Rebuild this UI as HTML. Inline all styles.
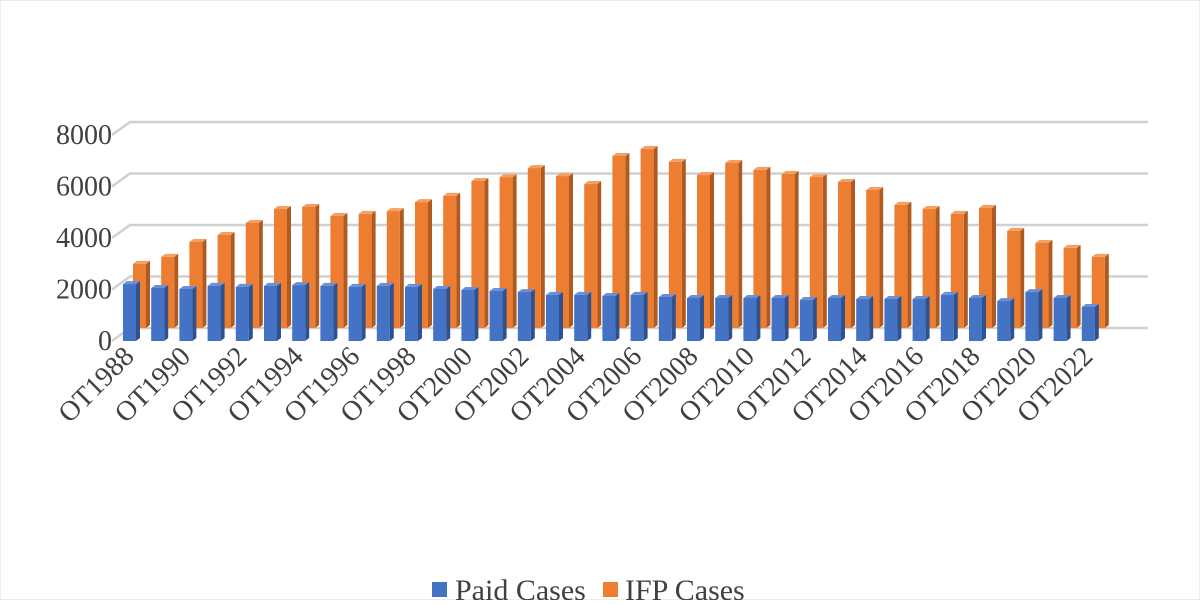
<!DOCTYPE html>
<html><head><meta charset="utf-8"><style>
body{margin:0;background:#fff}
svg text{font-family:"Liberation Serif",serif;fill:#404040}
</style></head><body>
<svg id="chart" width="1200" height="600" xmlns="http://www.w3.org/2000/svg">
<rect width="1200" height="600" fill="#fff" stroke="#d9d9d9"/>
<g id="grid"></g>
<g id="ylabels"></g>
<g id="bars"></g>
<g id="xlabels"></g>
<g>
<rect x="432" y="582" width="15" height="15" fill="#4472c4"/>
<text x="455" y="600" font-size="30">Paid Cases</text>
<rect x="603" y="582" width="15" height="15" fill="#ed7d31"/>
<text x="625" y="600" font-size="30">IFP Cases</text>
</g>
</svg>
<script>
const years = [];
for (let y = 1988; y <= 2022; y++) years.push('OT' + y);
const paid = [2210,2060,2020,2140,2100,2140,2170,2140,2100,2140,2100,2020,1980,1940,1900,1790,1790,1750,1790,1710,1670,1670,1670,1670,1590,1670,1630,1630,1630,1790,1670,1550,1900,1670,1320];
const ifp = [2490,2760,3340,3610,4080,4620,4700,4350,4430,4540,4890,5130,5710,5860,6210,5900,5590,6680,6950,6450,5940,6410,6140,5980,5860,5670,5360,4780,4620,4430,4660,3770,3300,3110,2760];
const yTicks = [0,2000,4000,6000,8000];

const NS='http://www.w3.org/2000/svg';
function mk(tag, attrs, parent){const e=document.createElementNS(NS,tag);for(const k in attrs)e.setAttribute(k,attrs[k]);parent.appendChild(e);return e;}
const frontBase=341, backBase=328, pxPer=25.75/1000;
const yFront=v=>frontBase-v*pxPer, yBack=v=>backBase-v*pxPer;
const x0=123, pitch=28.2, bw=13, dx=4, dy=3;
const xCat=i=>x0+i*pitch;

const grid=document.getElementById('grid');
const yl=document.getElementById('ylabels');
yTicks.forEach(t=>{
  const p=mk('polyline',{points:`112,${yFront(t)} 130,${yBack(t)} 1148,${yBack(t)}`,fill:'none',stroke:'#d0d0d0','stroke-width':2.5},grid);
  
  
  const tx=mk('text',{x:112,y:yFront(t)+9,'font-size':28,'text-anchor':'end'},yl);
  tx.textContent=t;
  
  
});

const bars=document.getElementById('bars');
function bar3d(x,base,top,front,side,topc,name){
  const g=mk('g',{},bars);
  
  
  mk('polygon',{points:`${x+bw},${base} ${x+bw+dx},${base-dy} ${x+bw+dx},${top-dy} ${x+bw},${top}`,fill:side},g);
  mk('polygon',{points:`${x},${top} ${x+dx},${top-dy} ${x+bw+dx},${top-dy} ${x+bw},${top}`,fill:topc},g);
  mk('rect',{x:x,y:top,width:bw,height:base-top,fill:front},g);
}
ifp.forEach((v,i)=>bar3d(xCat(i)+10,backBase,yBack(v),'#ed7d31','#ae5a21','#f4a064','bar-ifp-'+years[i]));
paid.forEach((v,i)=>bar3d(xCat(i),frontBase,yFront(v),'#4472c4','#2f528f','#6a8fd6','bar-paid-'+years[i]));

const xl=document.getElementById('xlabels');
years.forEach((yr,i)=>{
  if(i%2) return;
  const cx=xCat(i)+bw/2+6, cy=358;
  const t=mk('text',{x:cx,y:cy,'font-size':28,'text-anchor':'end',transform:`rotate(-45 ${cx} ${cy})`},xl);
  t.textContent=yr;
  
  
});
</script>
</body></html>
